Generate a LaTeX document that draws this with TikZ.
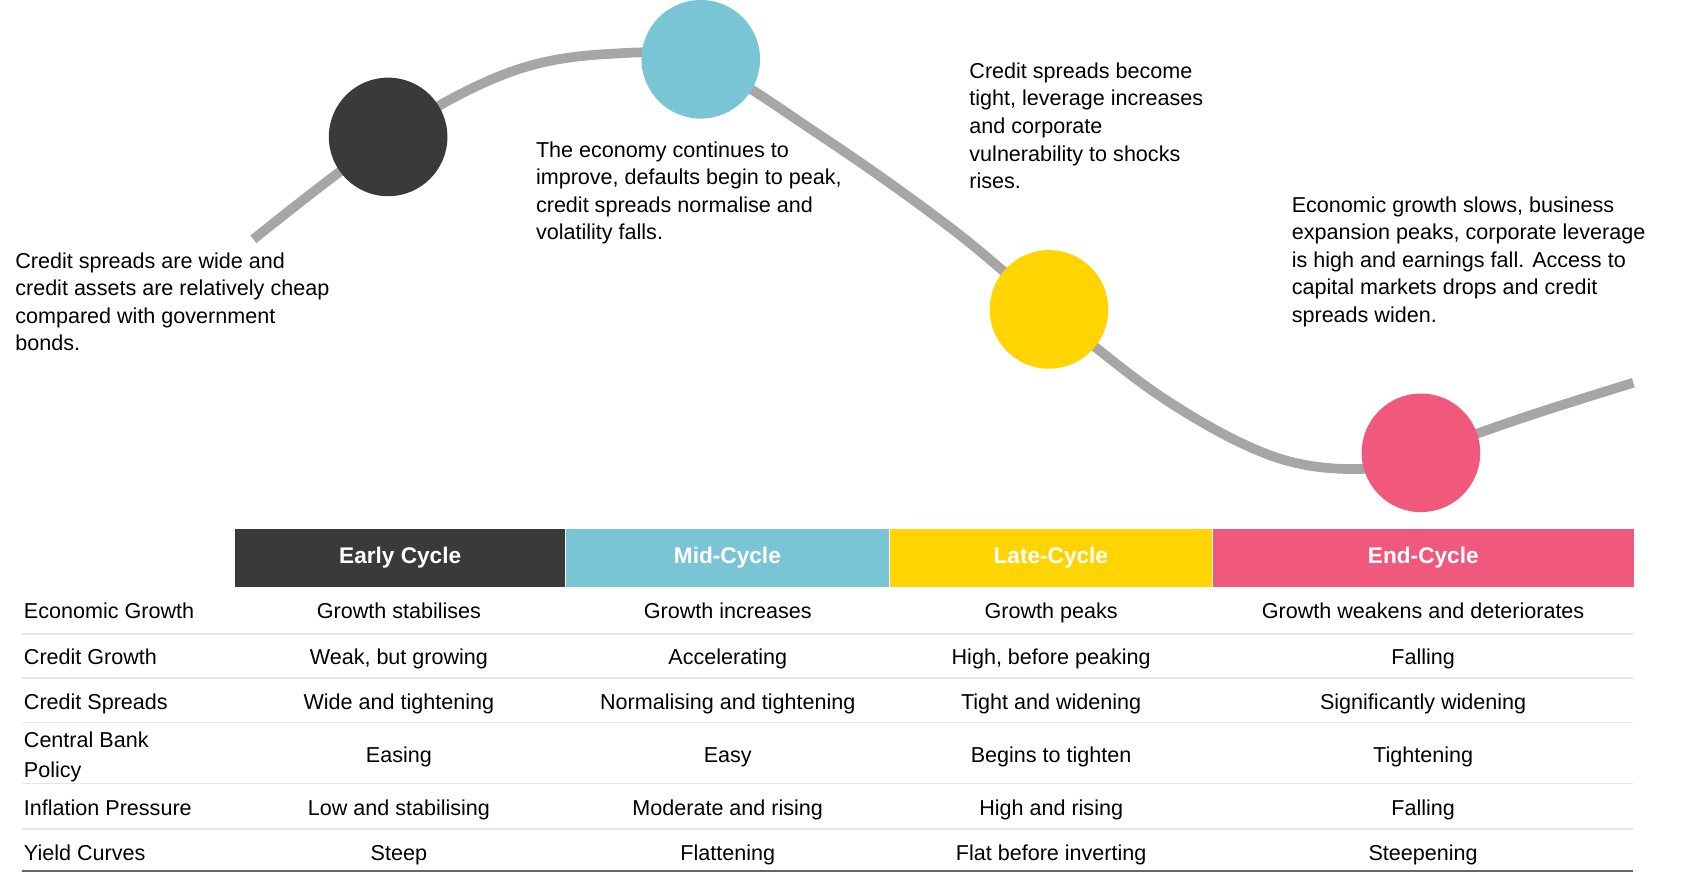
\documentclass[tikz,border=0pt]{standalone}
\usepackage{fontspec}
\setmainfont{Liberation Sans}
\begin{document}
\begin{tikzpicture}[x=1pt,y=-1pt,
  txt/.style={font=\fontsize{20}{25.6}\selectfont,inner sep=0pt},
  cell/.style={txt,anchor=base},
  desc/.style={txt,align=left,anchor=north west},
  hdr/.style={minimum height=54pt,inner sep=0pt,anchor=north west,text=white,font=\fontsize{21}{25}\selectfont\bfseries},
  dot/.style={circle,minimum size=110pt,inner sep=0pt},
  sep/.style={draw=black!10,line width=1.2pt}]
\definecolor{cdark}{HTML}{3A3B39}
\definecolor{cblue}{HTML}{7AC5D5}
\definecolor{cyel}{HTML}{FFD400}
\definecolor{cpink}{HTML}{F0587C}
\useasboundingbox (0,0) rectangle (1562,815);
\draw[line width=9pt,color=black!35] plot[smooth,tension=0.6] coordinates {(235,222) (360,127) (470,68) (565,50) (650,58) (760,125) (880,210) (973,287) (1080,370) (1180,423) (1262,435) (1318,420) (1420,385) (1515,355)};
\node[dot,fill=cdark] (c1) at (360,127) {};
\node[dot,fill=cblue] (c2) at (650,55) {};
\node[dot,fill=cyel] (c3) at (973,287) {};
\node[dot,fill=cpink] (c4) at (1318,420) {};
\node[desc] (d1) at (14,234) {Credit spreads are wide and\\credit assets are relatively cheap\\compared with government\\bonds.};
\node[desc] (d2) at (497,131) {The economy continues to\\improve, defaults begin to peak,\\credit spreads normalise and\\volatility falls.};
\node[desc] (d3) at (899,58) {Credit spreads become\\tight, leverage increases\\and corporate\\vulnerability to shocks\\rises.};
\node[desc] (d4) at (1198,182) {Economic growth slows, business\\expansion peaks, corporate leverage\\is high and earnings fall. Access to\\capital markets drops and credit\\spreads widen.};
\node[hdr,fill=cdark,minimum width=306pt] (h1) at (218,490) {Early Cycle};
\node[hdr,fill=cblue,minimum width=299pt] (h2) at (525,490) {Mid-Cycle};
\node[hdr,fill=cyel,minimum width=299pt] (h3) at (825,490) {Late-Cycle};
\node[hdr,fill=cpink,minimum width=390pt] (h4) at (1125,490) {End-Cycle};
\foreach \y in {588,629,670,727,769} \draw[sep] (20,\y) -- (1515,\y);
\draw[line width=2pt,color=black!60] (20,808) -- (1515,808);
\foreach \y/\l/\a/\b/\c/\d [count=\i] in {
 574/Economic Growth/Growth stabilises/Growth increases/Growth peaks/Growth weakens and deteriorates,
 616/Credit Growth/{Weak, but growing}/Accelerating/{High, before peaking}/Falling,
 658/Credit Spreads/Wide and tightening/Normalising and tightening/Tight and widening/Significantly widening,
 707/{}/Easing/Easy/Begins to tighten/Tightening,
 756/Inflation Pressure/Low and stabilising/Moderate and rising/High and rising/Falling,
 798/Yield Curves/Steep/Flattening/Flat before inverting/Steepening}{
 \node[cell,anchor=base west] (r\i) at (22,\y) {\l};
 \node[cell] (a\i) at (370,\y) {\a};
 \node[cell] (b\i) at (675,\y) {\b};
 \node[cell] (e\i) at (975,\y) {\c};
 \node[cell] (f\i) at (1320,\y) {\d};
}
\node[cell,anchor=base west] (r4a) at (22,693) {Central Bank};
\node[cell,anchor=base west] (r4b) at (22,721) {Policy};
\end{tikzpicture}
\end{document}
